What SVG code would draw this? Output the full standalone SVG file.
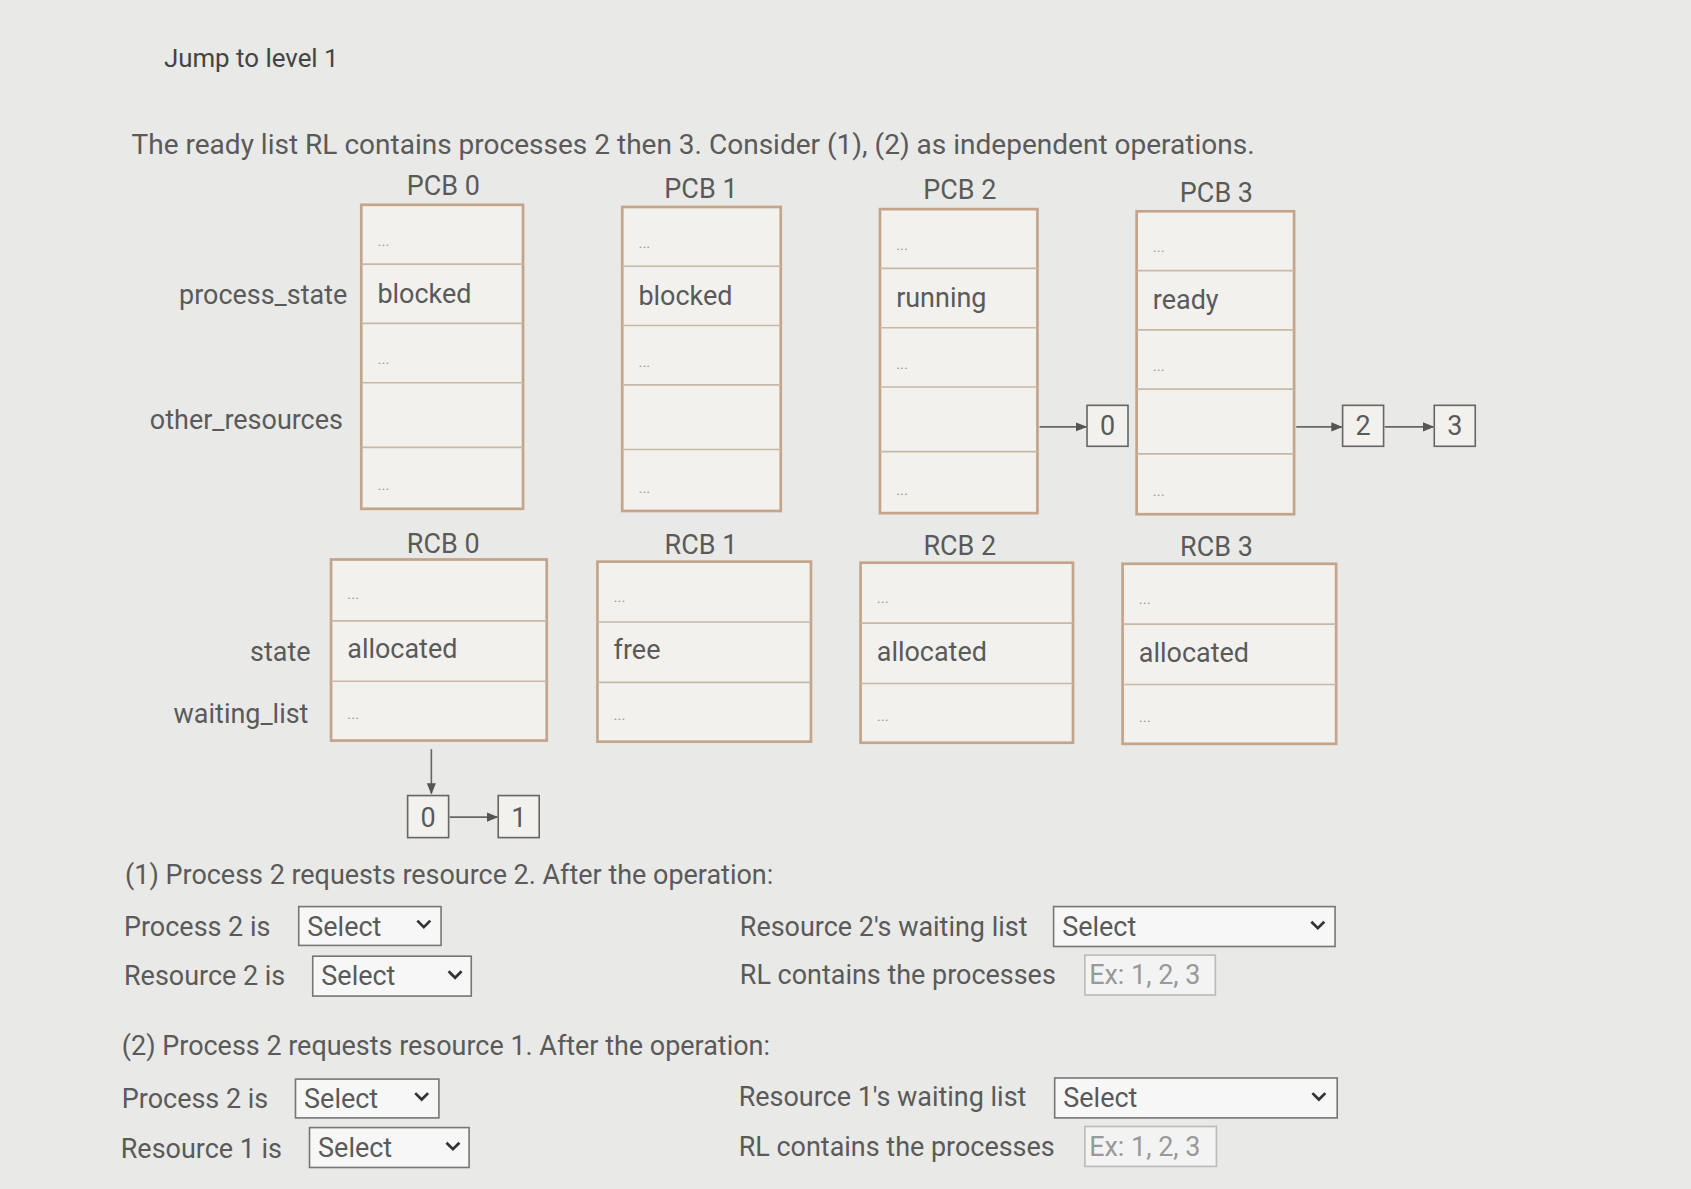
<svg xmlns="http://www.w3.org/2000/svg" width="1691" height="1189" viewBox="0 0 1691 1189">
<defs>
<style>
text{font-family:Roboto,"Liberation Sans",sans-serif;fill:#5a5a5a}
.t{font-size:25px}
.h{font-size:24px;fill:#444}
.d{font-size:14px;fill:#999}
.b{fill:#f2f1ee;stroke:#c4a48a;stroke-width:2.5}
.r{stroke:#c9b8a6;stroke-width:1.5}
.c{stroke:#666;stroke-width:1.5;fill:none}
.s{fill:#f7f7f7;stroke:#777;stroke-width:1.5}
.i{fill:#f3f3f3;stroke:#bbb;stroke-width:1.5}
.ph{font-size:25px;fill:#999}
</style>
<marker id="a" viewBox="0 0 10 10" refX="9" refY="5" markerWidth="7" markerHeight="7" orient="auto"><path d="M0,1 L10,5 L0,9 z" fill="#555"/></marker>
</defs>
<rect width="1691" height="1189" fill="#e9e9e7"/>
<g transform="scale(1.0784,1.078)">
<text x="152" y="62" class="h">Jump to level 1</text>
<text x="122" y="143" class="t" style="font-size:26px">The ready list RL contains processes 2 then 3. Consider (1), (2) as independent operations.</text>
<text x="322" y="282" class="t" text-anchor="end">process_state</text>
<text x="318" y="398" class="t" text-anchor="end">other_resources</text>
<text x="288" y="613" class="t" text-anchor="end">state</text>
<text x="286" y="671" class="t" text-anchor="end">waiting_list</text>

<g id="pcb0"><text x="411" y="181" class="t" text-anchor="middle">PCB 0</text>
<rect x="335" y="190" width="150" height="282" class="b"/>
<path d="M335 245H485M335 300H485M335 355H485M335 415H485" class="r"/>
<text x="350" y="228" class="d">...</text><text x="350" y="281" class="t">blocked</text><text x="350" y="338" class="d">...</text><text x="350" y="455" class="d">...</text></g>
<g id="pcb1"><text x="650" y="184" class="t" text-anchor="middle">PCB 1</text>
<rect x="577" y="192" width="147" height="282" class="b"/>
<path d="M577 247H724M577 302H724M577 357H724M577 417H724" class="r"/>
<text x="592" y="230" class="d">...</text><text x="592" y="283" class="t">blocked</text><text x="592" y="340" class="d">...</text><text x="592" y="457" class="d">...</text></g>
<g id="pcb2"><text x="890" y="185" class="t" text-anchor="middle">PCB 2</text>
<rect x="816" y="194" width="146" height="282" class="b"/>
<path d="M816 249H962M816 304H962M816 359H962M816 419H962" class="r"/>
<text x="831" y="232" class="d">...</text><text x="831" y="285" class="t">running</text><text x="831" y="342" class="d">...</text><text x="831" y="459" class="d">...</text></g>
<g id="pcb3"><text x="1128" y="187" class="t" text-anchor="middle">PCB 3</text>
<rect x="1054" y="196" width="146" height="281" class="b"/>
<path d="M1054 251H1200M1054 306H1200M1054 361H1200M1054 421H1200" class="r"/>
<text x="1069" y="234" class="d">...</text><text x="1069" y="287" class="t">ready</text><text x="1069" y="344" class="d">...</text><text x="1069" y="460" class="d">...</text></g>

<g id="rcb0"><text x="411" y="513" class="t" text-anchor="middle">RCB 0</text>
<rect x="307" y="519" width="200" height="168" class="b"/>
<path d="M307 576H507M307 632H507" class="r"/>
<text x="322" y="556" class="d">...</text><text x="322" y="610" class="t">allocated</text><text x="322" y="667" class="d">...</text></g>
<g id="rcb1"><text x="650" y="514" class="t" text-anchor="middle">RCB 1</text>
<rect x="554" y="521" width="198" height="167" class="b"/>
<path d="M554 577H752M554 633H752" class="r"/>
<text x="569" y="558" class="d">...</text><text x="569" y="611" class="t">free</text><text x="569" y="668" class="d">...</text></g>
<g id="rcb2"><text x="890" y="515" class="t" text-anchor="middle">RCB 2</text>
<rect x="798" y="522" width="197" height="167" class="b"/>
<path d="M798 578H995M798 634H995" class="r"/>
<text x="813" y="559" class="d">...</text><text x="813" y="613" class="t">allocated</text><text x="813" y="669" class="d">...</text></g>
<g id="rcb3"><text x="1128" y="516" class="t" text-anchor="middle">RCB 3</text>
<rect x="1041" y="523" width="198" height="167" class="b"/>
<path d="M1041 579H1239M1041 635H1239" class="r"/>
<text x="1056" y="560" class="d">...</text><text x="1056" y="614" class="t">allocated</text><text x="1056" y="670" class="d">...</text></g>

<g id="n0a"><rect x="1008" y="376" width="38" height="38" class="b" style="stroke:#666;stroke-width:1.5"/><text x="1027" y="404" class="t" text-anchor="middle">0</text></g>
<g id="n2"><rect x="1245" y="376" width="38" height="38" class="b" style="stroke:#666;stroke-width:1.5"/><text x="1264" y="404" class="t" text-anchor="middle">2</text></g>
<g id="n3"><rect x="1330" y="376" width="38" height="38" class="b" style="stroke:#666;stroke-width:1.5"/><text x="1349" y="404" class="t" text-anchor="middle">3</text></g>
<g id="n0b"><rect x="378" y="738" width="38" height="39" class="b" style="stroke:#666;stroke-width:1.5"/><text x="397" y="767" class="t" text-anchor="middle">0</text></g>
<g id="n1"><rect x="462" y="738" width="38" height="39" class="b" style="stroke:#666;stroke-width:1.5"/><text x="481" y="767" class="t" text-anchor="middle">1</text></g>

<g id="connectors">
<path d="M964 396H1007" class="c" marker-end="url(#a)"/>
<path d="M1202 396H1244" class="c" marker-end="url(#a)"/>
<path d="M1284 396H1329" class="c" marker-end="url(#a)"/>
<path d="M400 695V736" class="c" marker-end="url(#a)"/>
<path d="M417 758H461" class="c" marker-end="url(#a)"/>
</g>

<g id="form">
<text x="116" y="820" class="t">(1) Process 2 requests resource 2. After the operation:</text>
<text x="115" y="868" class="t">Process 2 is</text>
<rect x="277" y="841" width="132" height="36" class="s"/><text x="285" y="868" class="t">Select</text><path d="M387 854l6 6 6-6" class="c" style="stroke:#333;stroke-width:2.5"/>
<text x="115" y="914" class="t">Resource 2 is</text>
<rect x="290" y="887" width="147" height="37" class="s"/><text x="298" y="914" class="t">Select</text><path d="M416 901l6 6 6-6" class="c" style="stroke:#333;stroke-width:2.5"/>
<text x="686" y="868" class="t">Resource 2's waiting list</text>
<rect x="977" y="841" width="261" height="37" class="s"/><text x="985" y="868" class="t">Select</text><path d="M1216 855l6 6 6-6" class="c" style="stroke:#333;stroke-width:2.5"/>
<text x="686" y="913" class="t">RL contains the processes</text>
<rect x="1006" y="886" width="121" height="37" class="i"/><text x="1010" y="913" class="ph">Ex: 1, 2, 3</text>

<text x="113" y="979" class="t">(2) Process 2 requests resource 1. After the operation:</text>
<text x="113" y="1028" class="t">Process 2 is</text>
<rect x="274" y="1001" width="133" height="36" class="s"/><text x="282" y="1028" class="t">Select</text><path d="M385 1014l6 6 6-6" class="c" style="stroke:#333;stroke-width:2.5"/>
<text x="112" y="1074" class="t">Resource 1 is</text>
<rect x="287" y="1046" width="148" height="37" class="s"/><text x="295" y="1073" class="t">Select</text><path d="M414 1060l6 6 6-6" class="c" style="stroke:#333;stroke-width:2.5"/>
<text x="685" y="1026" class="t">Resource 1's waiting list</text>
<rect x="978" y="1000" width="262" height="37" class="s"/><text x="986" y="1027" class="t">Select</text><path d="M1217 1014l6 6 6-6" class="c" style="stroke:#333;stroke-width:2.5"/>
<text x="685" y="1072" class="t">RL contains the processes</text>
<rect x="1006" y="1045" width="122" height="37" class="i"/><text x="1010" y="1072" class="ph">Ex: 1, 2, 3</text>
</g>
</g>
</svg>
